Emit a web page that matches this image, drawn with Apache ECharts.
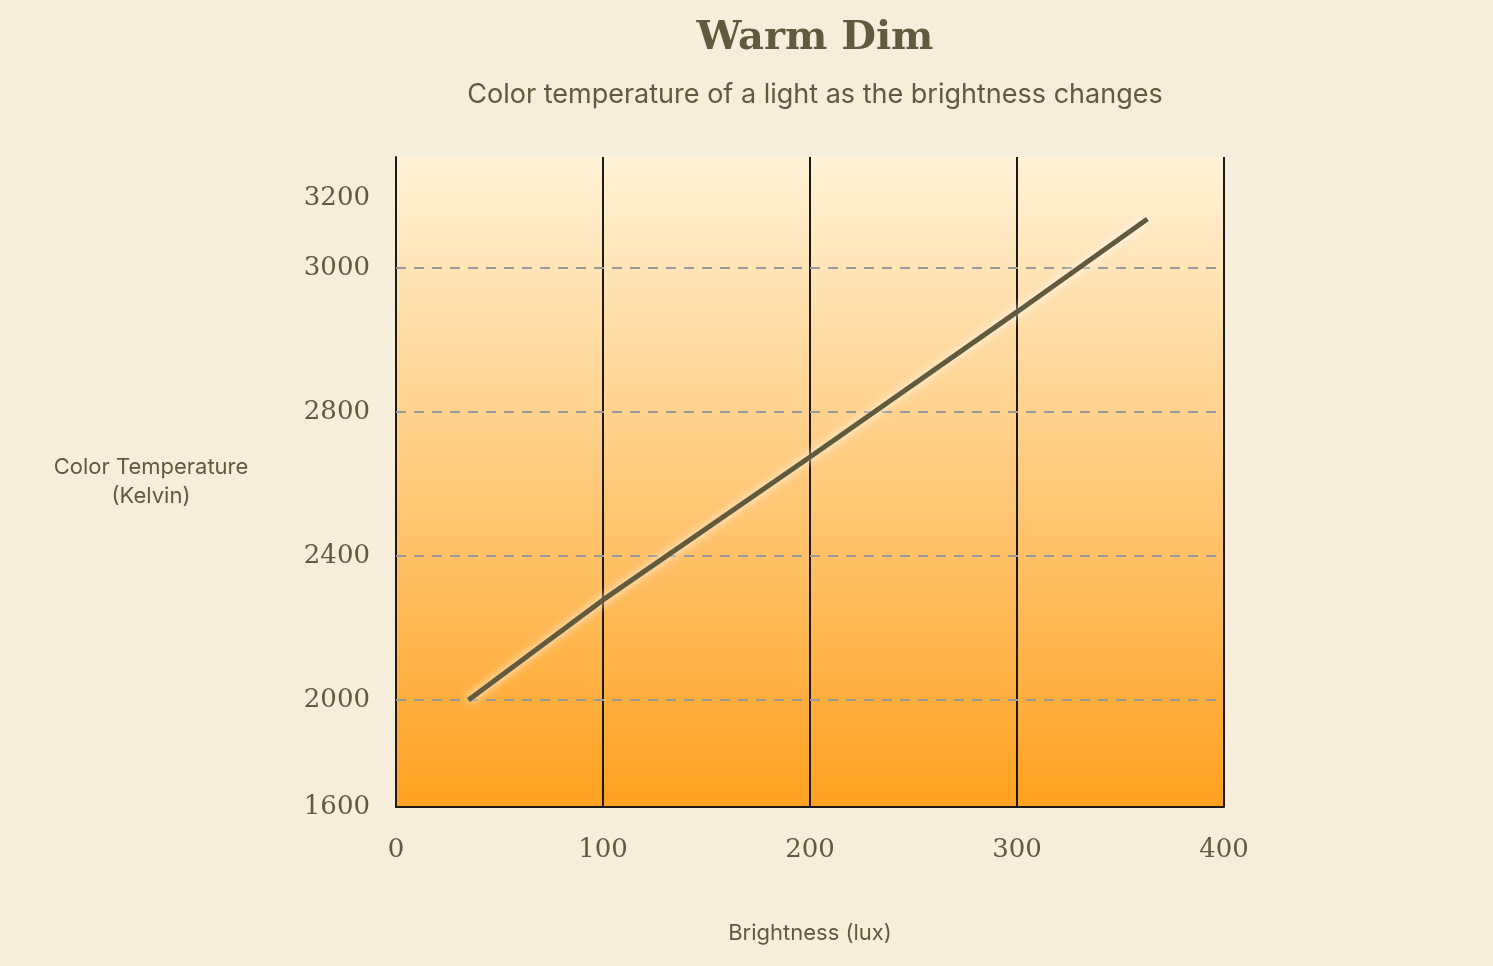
<!DOCTYPE html>
<html><head><meta charset="utf-8">
<script src="https://cdn.jsdelivr.net/npm/echarts@6/dist/echarts.min.js"></script>
<style>html,body{margin:0;background:#f7eddb}#c{width:1493px;height:966px}</style>
</head><body><div id="c"></div>
<script>
// data
var brightness = [35, 100, 200, 300, 363];
var kelvin = [2000, 2278, 2675, 2939, 3140];
var kelvinTicks = [1600, 2000, 2400, 2800, 3000, 3200];
var dashedAt = [2000, 2400, 2800, 3000];
// the reference axis is uneven; breakpoints of that scale (kelvin -> axis units)
var scaleK = [1600, 2000, 2400, 2800, 3000, 3200, 3317];
var scaleU = [0, 107, 251, 395, 539, 609, 650];

function toScale(k) {
    for (var i = 0; i < scaleK.length - 1; i++) {
        if (k <= scaleK[i + 1]) {
            var t = (k - scaleK[i]) / (scaleK[i + 1] - scaleK[i]);
            return scaleU[i] + t * (scaleU[i + 1] - scaleU[i]);
        }
    }
    return scaleU[scaleU.length - 1];
}
var labelOf = {};
kelvinTicks.forEach(function (k) { labelOf[Math.round(toScale(k))] = k; });

var ink = '#615a3c';
var serif = 'DejaVu Serif';
var chart = echarts.init(document.getElementById('c'));
chart.setOption({
    backgroundColor: '#f7eddb',
    title: {
        text: 'Warm Dim',
        subtext: 'Color temperature of a light as the brightness changes',
        left: 810, top: 14, textAlign: 'center', itemGap: 22,
        textStyle: { fontFamily: serif, fontWeight: 'bold', fontSize: 40, color: ink },
        subtextStyle: { fontFamily: 'Inter', fontSize: 27, color: ink }
    },
    grid: {
        left: 396, right: 269, top: 157, bottom: 159, show: true, borderWidth: 0,
        backgroundColor: new echarts.graphic.LinearGradient(0, 0, 0, 1, [
            { offset: 0, color: '#fff2d6' }, { offset: 1, color: '#ffa120' }])
    },
    xAxis: {
        type: 'value', min: 0, max: 400, interval: 100,
        name: 'Brightness (lux)', nameLocation: 'middle', nameGap: 115,
        nameTextStyle: { fontFamily: 'Inter', fontSize: 22, color: ink },
        axisLine: { lineStyle: { color: '#1a1a1a', width: 2 } },
        axisTick: { show: false },
        axisLabel: { margin: 30, fontFamily: serif, fontSize: 26, color: ink },
        splitLine: { lineStyle: { color: '#1a1a1a', width: 2 } }
    },
    yAxis: {
        type: 'value', min: 0, max: 650,
        name: 'Color Temperature\n(Kelvin)', nameLocation: 'middle', nameGap: 245, nameRotate: 0,
        nameTextStyle: { fontFamily: 'Inter', fontSize: 22, color: ink, lineHeight: 29, align: 'center' },
        axisLine: { show: true, lineStyle: { color: '#1a1a1a', width: 2 } },
        axisTick: { show: false },
        splitLine: { show: false },
        axisLabel: {
            margin: 26, fontFamily: serif, fontSize: 26, color: ink,
            customValues: kelvinTicks.map(function (k) { return Math.round(toScale(k)); }),
            formatter: function (v) { return labelOf[Math.round(v)] || ''; }
        }
    },
    series: [{
        type: 'line',
        data: brightness.map(function (b, i) { return [b, toScale(kelvin[i])]; }),
        showSymbol: false, silent: true,
        lineStyle: { color: ink, width: 5, shadowColor: '#ffffff', shadowBlur: 10 },
        markLine: {
            silent: true, symbol: 'none', label: { show: false },
            lineStyle: { color: '#999', type: [10, 8], width: 2 },
            data: dashedAt.map(function (k) { return { yAxis: toScale(k) }; })
        },
        z: 5
    }]
});
</script></body></html>
